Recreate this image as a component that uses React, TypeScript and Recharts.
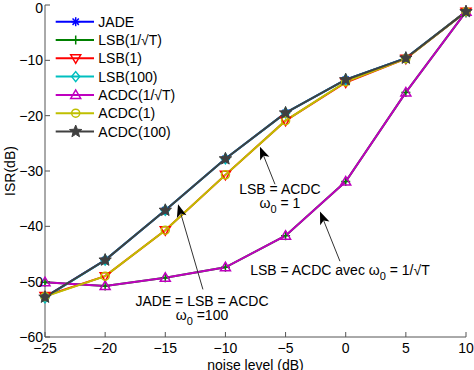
import React from "react";
import {
  LineChart,
  Line,
  XAxis,
  YAxis,
  Legend,
  ReferenceLine,
  ReferenceDot,
} from "recharts";

const noiseLevels = [-25, -20, -15, -10, -5, 0, 5, 10];
const jade = [-52.8, -46.1, -37.1, -27.8, -19.5, -13.5, -9.6, -1.2];
const lsbInvSqrt = [-50.1, -50.8, -49.3, -47.4, -41.7, -31.9, -15.8, -1.2];
const lsb1 = [-52.6, -49.0, -40.7, -30.7, -20.9, -14.0, -9.7, -1.2];
const lsb100 = [-52.9, -46.1, -37.1, -27.8, -19.5, -13.5, -9.6, -1.2];
const acdcInvSqrt = [-50.1, -50.8, -49.3, -47.4, -41.7, -31.9, -15.8, -1.2];
const acdc1 = [-52.7, -49.0, -40.7, -30.7, -20.9, -13.9, -9.7, -1.2];
const acdc100 = [-52.8, -46.1, -37.1, -27.8, -19.5, -13.5, -9.6, -1.2];

const xTicks = [-25, -20, -15, -10, -5, 0, 5, 10];
const yTicks = [-60, -50, -40, -30, -20, -10, 0];

const seriesDefs = [
  { key: "jade", name: "JADE", color: "#0000ff", marker: "asterisk", values: jade },
  { key: "lsbInvSqrt", name: "LSB(1/\u221AT)", color: "#008000", marker: "plus", values: lsbInvSqrt },
  { key: "lsb1", name: "LSB(1)", color: "#ff0000", marker: "triDown", values: lsb1 },
  { key: "lsb100", name: "LSB(100)", color: "#00bfbf", marker: "diamond", values: lsb100 },
  { key: "acdcInvSqrt", name: "ACDC(1/\u221AT)", color: "#bf00bf", marker: "triUp", values: acdcInvSqrt },
  { key: "acdc1", name: "ACDC(1)", color: "#bfbf00", marker: "circle", values: acdc1 },
  { key: "acdc100", name: "ACDC(100)", color: "#404040", marker: "star", values: acdc100 },
];

const data = noiseLevels.map((x, i) => {
  const row: any = { x };
  seriesDefs.forEach((s) => (row[s.key] = s.values[i]));
  return row;
});

const FONT = "'Liberation Sans', Arial, sans-serif";

function Marker({ type, color, cx, cy }: { type: string; color: string; cx: number; cy: number }) {
  const sw = 1.5;
  switch (type) {
    case "asterisk": {
      const r = 4.5;
      return (
        <g stroke={color} strokeWidth={sw}>
          <line x1={cx - r} y1={cy} x2={cx + r} y2={cy} />
          <line x1={cx} y1={cy - r} x2={cx} y2={cy + r} />
          <line x1={cx - r * 0.7} y1={cy - r * 0.7} x2={cx + r * 0.7} y2={cy + r * 0.7} />
          <line x1={cx - r * 0.7} y1={cy + r * 0.7} x2={cx + r * 0.7} y2={cy - r * 0.7} />
        </g>
      );
    }
    case "plus": {
      const r = 4.5;
      return (
        <g stroke={color} strokeWidth={sw}>
          <line x1={cx - r} y1={cy} x2={cx + r} y2={cy} />
          <line x1={cx} y1={cy - r} x2={cx} y2={cy + r} />
        </g>
      );
    }
    case "triDown": {
      const r = 5;
      return (
        <polygon
          points={`${cx - r},${cy - r * 0.7} ${cx + r},${cy - r * 0.7} ${cx},${cy + r}`}
          fill="none"
          stroke={color}
          strokeWidth={sw}
        />
      );
    }
    case "triUp": {
      const r = 5;
      return (
        <polygon
          points={`${cx - r},${cy + r * 0.7} ${cx + r},${cy + r * 0.7} ${cx},${cy - r}`}
          fill="none"
          stroke={color}
          strokeWidth={sw}
        />
      );
    }
    case "diamond": {
      const r = 5;
      return (
        <polygon
          points={`${cx},${cy - r} ${cx + r * 0.8},${cy} ${cx},${cy + r} ${cx - r * 0.8},${cy}`}
          fill="none"
          stroke={color}
          strokeWidth={sw}
        />
      );
    }
    case "circle":
      return <circle cx={cx} cy={cy} r={4} fill="none" stroke={color} strokeWidth={sw} />;
    case "star": {
      const R = 6.5;
      const r = 2.8;
      const pts: string[] = [];
      for (let i = 0; i < 10; i++) {
        const ang = -Math.PI / 2 + (i * Math.PI) / 5;
        const rad = i % 2 === 0 ? R : r;
        pts.push(`${cx + rad * Math.cos(ang)},${cy + rad * Math.sin(ang)}`);
      }
      return <polygon points={pts.join(" ")} fill={color} stroke={color} strokeWidth={1} />;
    }
    default:
      return null;
  }
}

function makeDot(type: string, color: string) {
  return (props: any) => {
    const { cx, cy, index } = props;
    if (cx == null || cy == null) return <g key={index} />;
    return (
      <g key={index}>
        <Marker type={type} color={color} cx={cx} cy={cy} />
      </g>
    );
  };
}

function LegendContent() {
  return (
    <svg width={130} height={140} style={{ display: "block" }}>
      {seriesDefs.map((s, i) => {
        const y = 13.7 + i * 18.3;
        return (
          <g key={s.key}>
            <line x1={8.7} y1={y} x2={47} y2={y} stroke={s.color} strokeWidth={2} />
            <Marker type={s.marker} color={s.color} cx={28.7} cy={y} />
            <text x={51.3} y={y + 5} fontSize={14} fontFamily={FONT} fill="#000">
              {s.name}
            </text>
          </g>
        );
      })}
    </svg>
  );
}

function Arrow(props: any) {
  const { x1, y1, x2, y2 } = props;
  const dx = x2 - x1;
  const dy = y2 - y1;
  const len = Math.sqrt(dx * dx + dy * dy);
  const ux = dx / len;
  const uy = dy / len;
  const px = -uy;
  const py = ux;
  const L = 13;
  const W = 5;
  const back = L * 0.75;
  const bx = x2 - ux * L;
  const by = y2 - uy * L;
  const nx = x2 - ux * back;
  const ny = y2 - uy * back;
  return (
    <g>
      <line x1={x1} y1={y1} x2={nx} y2={ny} stroke="#333" strokeWidth={1} />
      <polygon
        points={`${x2},${y2} ${bx + px * W},${by + py * W} ${nx},${ny} ${bx - px * W},${by - py * W}`}
        fill="#000"
      />
    </g>
  );
}

function makeLabel(lines: React.ReactNode[]) {
  return (props: any) => {
    const { cx, cy } = props;
    return (
      <text x={cx} y={cy} fontSize={14} fontFamily={FONT} textAnchor="middle" fill="#000">
        {lines.map((l, i) => (
          <tspan key={i} x={cx} y={cy + i * 14}>
            {l}
          </tspan>
        ))}
      </text>
    );
  };
}

const omega = (rest: string) => (
  <>
    {"\u03C9"}
    <tspan fontSize={11} dy={5}>0</tspan>
    <tspan dy={-5}>{rest}</tspan>
  </>
);

const label1 = makeLabel(["LSB = ACDC", omega(" = 1")]);
const label2 = makeLabel(["JADE = LSB = ACDC", omega(" =100")]);
const label3 = makeLabel([<>{"LSB = ACDC avec "}{omega(" = 1/\u221AT")}</>]);

const minus = (v: any) => String(v).replace("-", "\u2212");

export default function App() {
  return (
    <LineChart
      width={474}
      height={370}
      data={data}
      margin={{ top: 5, right: 8, left: 0, bottom: 0 }}
      style={{ position: "absolute", left: 0, top: 0 }}
    >
      <XAxis
        dataKey="x"
        type="number"
        domain={[-25, 10]}
        ticks={xTicks}
        tickFormatter={minus}
        tickSize={-5}
        tickMargin={11}
        height={33}
        stroke="#555"
        tick={{ fill: "#000", fontSize: 14, fontFamily: FONT }}
        label={{ value: "noise level (dB)", position: "insideBottom", offset: 0, fill: "#000", fontSize: 14, fontFamily: FONT }}
      />
      <XAxis
        xAxisId="top"
        orientation="top"
        dataKey="x"
        type="number"
        domain={[-25, 10]}
        ticks={xTicks}
        tickSize={-5}
        tick={false}
        height={0}
        stroke="#555"
      />
      <YAxis
        type="number"
        domain={[-60, 0]}
        ticks={yTicks}
        tickFormatter={minus}
        tickSize={-5}
        tickMargin={7}
        width={45}
        stroke="#555"
        tick={{ fill: "#000", fontSize: 14, fontFamily: FONT }}
        label={{ value: "ISR(dB)", angle: -90, position: "insideLeft", offset: 10, fill: "#000", fontSize: 14, fontFamily: FONT, style: { textAnchor: "middle" } }}
      />
      <YAxis
        yAxisId="right"
        orientation="right"
        type="number"
        domain={[-60, 0]}
        ticks={yTicks}
        tickSize={-5}
        tick={false}
        width={0}
        stroke="#555"
      />
      <Legend
        layout="horizontal"
        verticalAlign="middle"
        align="center"
        wrapperStyle={{ position: "absolute", left: 47, top: 8, width: 130, height: 140 }}
        content={() => <LegendContent />}
      />
      {seriesDefs.map((s) => (
        <Line
          key={s.key}
          dataKey={s.key}
          name={s.name}
          stroke={s.color}
          strokeWidth={2}
          dot={makeDot(s.marker, s.color)}
          activeDot={false}
          isAnimationActive={false}
          type="linear"
        />
      ))}
      <ReferenceLine segment={[{ x: -5.88, y: -32.4 }, { x: -7.13, y: -25.6 }]} shape={Arrow} ifOverflow="visible" />
      <ReferenceLine segment={[{ x: -11.87, y: -51.4 }, { x: -13.94, y: -36.0 }]} shape={Arrow} ifOverflow="visible" />
      <ReferenceLine segment={[{ x: -0.48, y: -46.3 }, { x: -2.14, y: -37.3 }]} shape={Arrow} ifOverflow="visible" />
      <ReferenceDot x={-5.47} y={-34.2} r={0} ifOverflow="visible" shape={label1} />
      <ReferenceDot x={-11.95} y={-54.4} r={0} ifOverflow="visible" shape={label2} />
      <ReferenceDot x={-0.48} y={-48.8} r={0} ifOverflow="visible" shape={label3} />
    </LineChart>
  );
}
